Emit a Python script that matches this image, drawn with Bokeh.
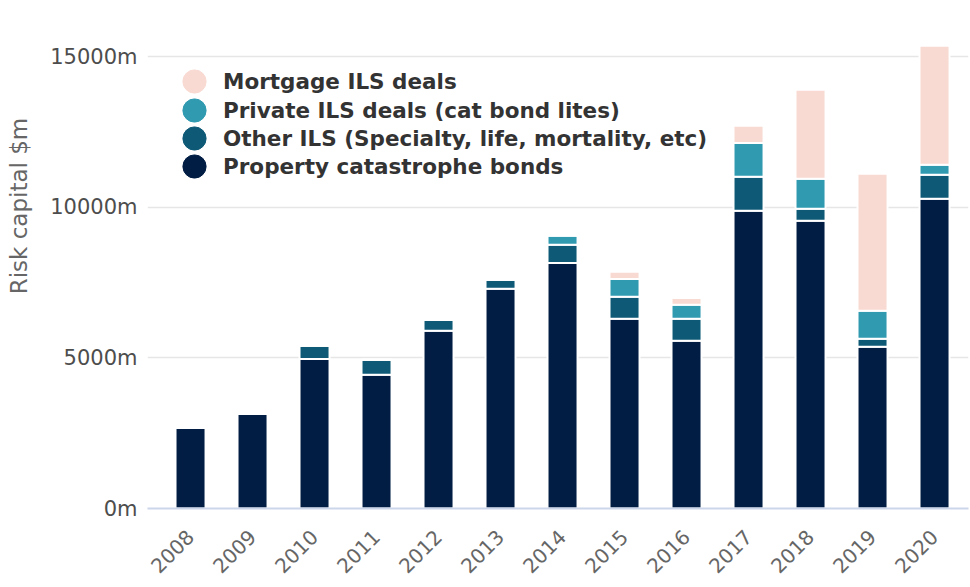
import math
from bokeh.plotting import figure
from bokeh.models import (ColumnDataSource, FixedTicker, PrintfTickFormatter, Range1d,
                          Legend, LegendItem)
from bokeh.embed import file_html
from bokeh.resources import INLINE

# ---- data (US$ millions) ----
years = ["2008", "2009", "2010", "2011", "2012", "2013", "2014",
         "2015", "2016", "2017", "2018", "2019", "2020"]
property_cat = [2680, 3140, 4960, 4440, 5900, 7290, 8150, 6300, 5570, 9880, 9550, 5370, 10280]
other_ils = [0, 0, 440, 500, 360, 300, 600, 730, 730, 1130, 400, 260, 800]
private_ils = [0, 0, 0, 0, 0, 0, 300, 590, 460, 1120, 990, 930, 330]
mortgage_ils = [0, 0, 0, 0, 0, 0, 0, 240, 230, 570, 2960, 4550, 3950]

series_names = ["Property catastrophe bonds",
                "Other ILS (Specialty, life, mortality, etc)",
                "Private ILS deals (cat bond lites)",
                "Mortgage ILS deals"]
series_keys = ["property", "other", "private", "mortgage"]
colors = ["#011d44", "#0d5976", "#2f9ab0", "#f8dad2"]
y_ticks = [0, 5000, 10000, 15000]
y_title = "Risk capital $m"

FONT = "DejaVu Sans"

x_idx = list(range(len(years)))
source = ColumnDataSource(data=dict(
    x=x_idx,
    property=property_cat,
    other=other_ils,
    private=private_ils,
    mortgage=mortgage_ils,
))

p = figure(width=970, height=587, output_backend="svg", toolbar_location=None,
           x_range=Range1d(-0.694, 12.548), y_range=Range1d(0, 16196),
           min_border_left=147, min_border_right=2, min_border_top=20,
           min_border_bottom=79, outline_line_color=None)
p.background_fill_color = "white"
p.border_fill_color = "white"

p.vbar_stack(series_keys, x="x", width=0.484, color=colors, source=source,
             line_color="white", line_width=2)

# axes
p.xaxis.ticker = FixedTicker(ticks=x_idx)
p.xaxis.major_label_overrides = {i: y for i, y in enumerate(years)}
p.xaxis.major_label_orientation = math.pi / 4
p.xaxis.major_label_text_font = FONT
p.xaxis.major_label_text_font_size = "20px"
p.xaxis.major_label_text_color = "#666666"
p.xaxis.major_tick_line_color = None
p.xaxis.minor_tick_line_color = None
p.xaxis.axis_line_color = "#ccd6eb"
p.xaxis.axis_line_width = 2
p.xaxis.major_label_standoff = 19

p.yaxis.ticker = FixedTicker(ticks=y_ticks)
p.yaxis.formatter = PrintfTickFormatter(format="%dm")
p.yaxis.major_label_text_font = FONT
p.yaxis.major_label_text_font_size = "21px"
p.yaxis.major_label_text_color = "#4d4d4d"
p.yaxis.major_tick_line_color = None
p.yaxis.minor_tick_line_color = None
p.yaxis.major_tick_out = 0
p.yaxis.minor_tick_out = 0
p.yaxis.axis_line_color = None
p.yaxis.major_label_standoff = 10

# axis title: leading no-break spaces lift the visible words to the upper part of the
# axis, where the reference places them
p.yaxis.axis_label = "\u00a0" * 16 + y_title
p.yaxis.axis_label_standoff = 15
p.yaxis.axis_label_text_font = FONT
p.yaxis.axis_label_text_font_size = "23px"
p.yaxis.axis_label_text_font_style = "normal"
p.yaxis.axis_label_text_color = "#666666"

p.xgrid.grid_line_color = None
p.ygrid.grid_line_color = "#e6e6e6"
p.ygrid.grid_line_width = 1.5

# legend: one legend per row, circle markers from hidden scatter renderers
legend_bottoms = [398, 369, 341, 313]   # screen offsets of each row's box
for (name, key, col), yb in zip(reversed(list(zip(series_names, series_keys, colors))),
                                legend_bottoms):
    r = p.scatter(x="x", y=key, source=source, marker="circle", color=col,
                  visible=False)
    lg = Legend(items=[LegendItem(label=name, renderers=[r])], location=(18, yb),
                click_policy="none",
                glyph_width=58, glyph_height=58, spacing=0, label_standoff=0,
                padding=0, margin=0,
                label_text_font=FONT, label_text_font_size="21.5px",
                label_text_font_style="bold", label_text_color="#333333",
                background_fill_alpha=0, border_line_alpha=0,
                inactive_fill_alpha=0)
    p.add_layout(lg, "center")

open("out.html", "w").write(file_html(p, INLINE))
